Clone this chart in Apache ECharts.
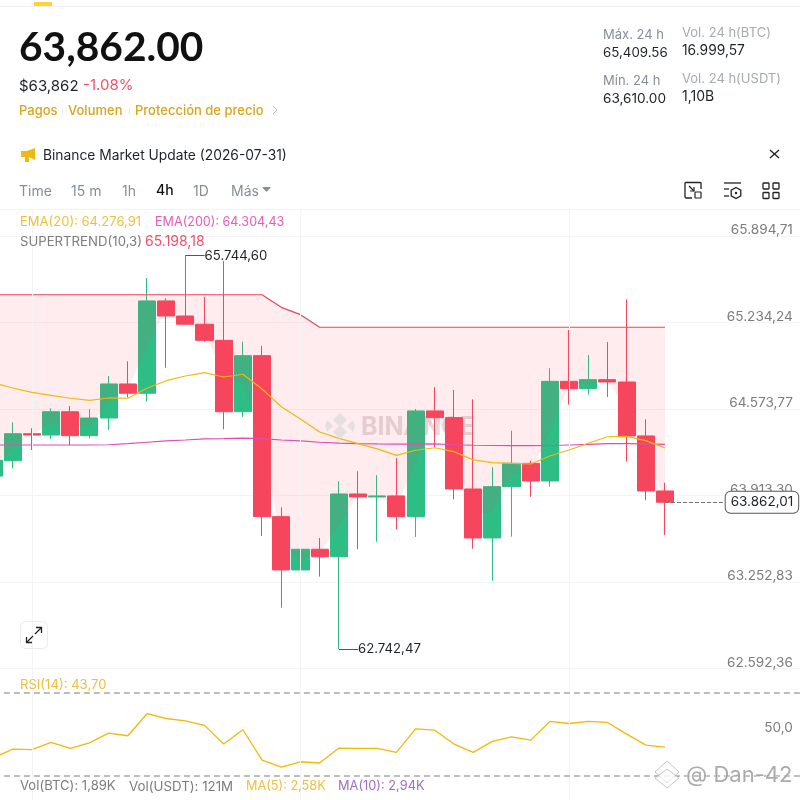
<!DOCTYPE html>
<html>
<head>
<meta charset="utf-8">
<style>html,body{margin:0;padding:0;background:#fff}#c{width:800px;height:800px}</style>
<script src="https://cdn.jsdelivr.net/npm/echarts@6/dist/echarts.min.js"></script>
</head>
<body>
<div id="c"></div>
<script>
const opens = [64062,64179,64385,64375,64553,64370,64505,64765,64694,65399,65284,65221,65098,64553,64981,63752,63345,63503,63446,63925,63902,63910,63752,64559,64508,63963,63589,63981,64159,64024,64785,64729,64798,64780,64368,63948];
const closes = [64182,64385,64375,64553,64370,64505,64765,64694,65399,65284,65221,65098,64553,64981,63752,63345,63503,63446,63925,63902,63910,63752,64559,64508,63963,63589,63981,64159,64024,64785,64729,64798,64780,64368,63948,63862.01];
const lows = [64055,64121,64261,64345,64297,64350,64414,64663,64630,64889,65215,65088,64419,64515,63604,63057,63217,63294,62742.47,63503,63561,63655,63597,64282,63884,63507,63263,63599,63904,63981,64607,64683,64666,64171,63877,63610];
const highs = [64200,64472,64427,64579,64597,64572,64826,64938,65574,65419,65744.60,65431,65704,65088,65055,63823,63663,63589,64022,64098,64068,64198,64574,64740,64719,64648,64129,64408,64179,64885,65177,64986,65085,65409.56,64495,64011];
const ema20 = [64772,64734,64701,64678,64656,64640,64658,64656,64732,64790,64826,64851,64818,64839,64727,64591,64498,64398,64350,64309,64269,64220,64259,64278,64248,64185,64164,64159,64154,64215,64261,64312,64362,64365,64332,64276.91];
const ema200 = [64299,64299,64299,64299,64299,64299,64301,64309,64320,64330,64337,64345,64347,64352,64347,64337,64330,64320,64314,64310,64307,64305,64305,64307,64301,64297,64295,64294,64294,64295,64299,64303,64309,64309,64307,64304.43];
const supertrend = [65446,65446,65446,65446,65446,65446,65446,65446,65446,65446,65446,65446,65446,65446,65446,65350,65294,65198.18,65198.18,65198.18,65198.18,65198.18,65198.18,65198.18,65198.18,65198.18,65198.18,65198.18,65198.18,65198.18,65198.18,65198.18,65198.18,65198.18,65198.18,65198.18];
const rsi = [38.5,42.8,42.5,46.0,43.1,45.8,50.5,49.2,59.8,57.5,56.4,54.2,45.2,52.1,37.5,34.1,36.7,36.1,43.3,43.1,43.1,41.2,52.5,51.9,45.2,41.2,46.5,48.7,47.1,56.1,55.1,56.1,55.6,50.0,44.7,43.7];
const priceTicks = [65894.71,65234.24,64573.77,63913.30,63252.83,62592.36];
const rsiTicks = [50];
const rsiBands = [70,30];
const timeMarks = [2,16,30];
const emptySlots = 7;

const FONT = 'Inter, "Noto Sans", sans-serif';
const RED = '#F6465D', GREEN = '#2EBD85', YEL = '#F0B90B';
const categories = opens.concat(new Array(emptySlots).fill(0)).map((_, i) => String(i));
const bandLow = opens.map((o, i) => (o + closes[i]) / 2);
const bandDiff = supertrend.map((s, i) => s - bandLow[i]);
const esFmt = (v, d) => v.toFixed(d).replace('.', ',').replace(/\B(?=(\d{3})+(?!\d))/g, '.');

const T = (text, x, y, fill, size, weight, extra) => ({
  type: 'text', z: 10, silent: true, x, y,
  style: Object.assign({ text, fill: fill || '#222', font: `${weight || 400} ${size || 13}px ${FONT}`, verticalAlign: 'middle', textAlign: 'left' }, extra || {})
});
const L = (x1, y1, x2, y2, stroke, w, z) => ({ type: 'line', z: z === undefined ? 10 : z, silent: true, shape: { x1, y1, x2, y2 }, style: { stroke: stroke || '#222', lineWidth: w || 1.3, fill: null } });
const R = (x, y, width, height, stroke, r, w) => ({ type: 'rect', z: 10, silent: true, shape: { x, y, width, height, r: r || 0 }, style: { stroke: stroke || '#222', lineWidth: w || 1.3, fill: 'transparent' } });
const P = (points, fill) => ({ type: 'polygon', z: 10, silent: true, shape: { points }, style: { fill } });
const PL = (points, stroke, w) => ({ type: 'polyline', z: 10, silent: true, shape: { points }, style: { stroke: stroke || '#222', lineWidth: w || 1.3, fill: null } });

const graphics = [
  L(0, 6.5, 800, 6.5, '#eeeeee', 1),
  { type: 'rect', z: 10, silent: true, shape: { x: 34, y: 2, width: 18, height: 4 }, style: { fill: '#FCD535' } },
  T('63,862.00', 19, 48, '#111', 40, 700, { font: '700 40.7px Lato, Inter, sans-serif' }),
  T('$63,862', 19, 86, '#1e2329', 15, 400),
  T('-1.08%', 83, 85, '#F0506A', 15, 400),
  T('Pagos', 19, 111, '#D8A51C', 13, 500),
  L(62.5, 108, 62.5, 114, '#e6e6e6', 1),
  T('Volumen', 68, 111, '#D8A51C', 13, 500),
  L(129.5, 108, 129.5, 114, '#e6e6e6', 1),
  T('Protección de precio', 135, 111, '#D8A51C', 13, 500),
  PL([[273, 106], [277, 110], [273, 114]], '#b5b5b5', 1),
  T('Máx. 24 h', 603, 35, '#848E9C', 13),
  T('65,409.56', 603, 53, '#1e2329', 13.3),
  T('Mín. 24 h', 603, 81, '#848E9C', 13),
  T('63,610.00', 603, 99, '#1e2329', 13.6),
  T('Vol. 24 h(BTC)', 682, 33, '#a5abb4', 13),
  T('16.999,57', 682, 51, '#1e2329', 13.8),
  T('Vol. 24 h(USDT)', 682, 79, '#a5abb4', 13),
  T('1,10B', 682, 97, '#1e2329', 14),
  P([[21, 151], [27, 151], [35, 148], [35, 160], [29, 157], [29, 162], [25, 162], [25, 157], [21, 157]], '#F0B90B'),
  T('Binance Market Update (2026-07-31)', 43, 156, '#1e2329', 13.8),
  L(770, 150, 779, 158, '#222', 1.3), L(779, 150, 770, 158, '#222', 1.3),
  T('Time', 19, 192, '#848E9C', 14),
  T('15 m', 71, 192, '#848E9C', 14),
  T('1h', 122, 192, '#848E9C', 14),
  T('4h', 156, 191, '#111', 14, 500),
  T('1D', 193, 192, '#848E9C', 14),
  T('Más', 231, 192, '#848E9C', 14),
  P([[262, 187], [271, 187], [266.5, 192]], '#848E9C'),
  PL([[692, 198], [686, 198], [685, 197], [685, 183], [686, 182.5], [700, 182.5], [701, 183], [701, 189]], '#222', 1.3),
  R(695, 192, 6, 6, '#222', 0.5, 1.2),
  L(689, 186, 694, 191, '#222', 1.3),
  PL([[694, 187], [694, 191], [690, 191]], '#222', 1.2),
  L(724, 183, 741, 183, '#222', 1.3), L(724, 189, 729, 189, '#222', 1.3), L(724, 196, 729, 196, '#222', 1.3),
  P([[736, 187], [741, 190], [741, 196], [736, 199], [731, 196], [731, 190]], 'transparent'),
  { type: 'polygon', z: 10, silent: true, shape: { points: [[736, 187.5], [740.8, 190.2], [740.8, 195.8], [736, 198.5], [731.2, 195.8], [731.2, 190.2]] }, style: { stroke: '#222', lineWidth: 1.3, fill: 'transparent' } },
  { type: 'circle', z: 10, silent: true, shape: { cx: 736, cy: 193, r: 1.2 }, style: { fill: '#222' } },
  R(763, 183, 6, 6, '#222', 0.8), R(773, 183, 6, 6, '#222', 0.8), R(763, 192.5, 6, 6, '#222', 0.8), R(773, 192.5, 6, 6, '#222', 0.8),
  L(0, 209.5, 800, 209.5, '#f4f4f4', 1, 0),
  T('EMA(20): 64.276,91', 20, 222, '#EFBE3C', 13),
  T('EMA(200): 64.304,43', 155, 222, '#E55BBE', 12.6),
  T('SUPERTREND(10,3)', 20, 242, '#7d7d7d', 13.2),
  T('65.198,18', 145, 242, '#F0506A', 14),
  T('RSI(14): 43,70', 20, 685.5, '#EFBE3C', 13.1),
  T('Vol(BTC): 1,89K', 20, 786.5, '#7d7d7d', 13.1),
  T('Vol(USDT): 121M', 129, 786.5, '#7d7d7d', 13.3),
  T('MA(5): 2,58K', 246, 786.5, '#EFBE3C', 12.7),
  T('MA(10): 2,94K', 338, 786.5, '#9C6FC4', 12.8),
  R(20.5, 621.5, 27, 27, '#ececec', 5, 1),
  L(27, 642, 33, 636, '#222', 1.3), L(41, 628, 35, 634, '#222', 1.3),
  PL([[36, 627.5], [41.5, 627.5], [41.5, 633]]),
  PL([[26.5, 637], [26.5, 642.5], [32, 642.5]]),
  { type: 'group', z: 0, children: [
    P([[340, 413], [347, 420], [340, 427], [333, 420]], '#e4dfe1'),
    P([[340, 425], [347, 432], [340, 439], [333, 432]], '#e4dfe1'),
    P([[327, 420], [333, 426], [327, 432], [325, 426]], '#e4dfe1'),
    P([[353, 420], [355, 426], [353, 432], [347, 426]], '#e4dfe1'),
    { type: 'text', z: 0, silent: true, x: 361, y: 427, style: { text: 'BINANCE', fill: '#e2dcde', font: `700 25px ${FONT}`, verticalAlign: 'middle' } }
  ] },
  { type: 'polygon', z: 12, silent: true, shape: { points: [[667, 761], [679, 772], [667, 783], [655, 772]] }, style: { fill: 'rgba(255,255,255,0.55)', stroke: 'rgba(160,160,160,0.6)', lineWidth: 1 } },
  { type: 'polygon', z: 12, silent: true, shape: { points: [[667, 769], [679, 778], [667, 788], [655, 778]] }, style: { fill: 'rgba(255,255,255,0.55)', stroke: 'rgba(160,160,160,0.6)', lineWidth: 1 } },
  { type: 'text', z: 12, silent: true, x: 686, y: 775, style: { text: '@ Dan-42', fill: 'rgba(150,150,150,0.8)', stroke: 'rgba(255,255,255,0.8)', lineWidth: 1, font: `400 22px ${FONT}`, verticalAlign: 'middle' } }
];

const invisibleX = (grid) => ({ type: 'category', gridIndex: grid, data: categories, axisLine: { show: false }, axisTick: { show: false }, axisLabel: { show: false }, splitLine: { show: false } });
const timeLines = { silent: true, symbol: 'none', animation: false, label: { show: false }, lineStyle: { color: '#f4f4f4', width: 1, type: 'solid' }, data: timeMarks.map(i => ({ xAxis: i })) };
const nulls = categories.map(() => null);
const noteLabel = (v) => ({ position: 'end', distance: 0, color: '#1e2329', fontSize: 13.2, fontFamily: FONT, formatter: esFmt(v, 2) });

const option = {
  animation: false,
  backgroundColor: '#ffffff',
  textStyle: { fontFamily: FONT },
  graphic: { elements: graphics },
  grid: [
    { left: -16.1, top: 210, width: 825, height: 458.5, outerBoundsMode: 'none' },
    { left: -16.1, top: 668.5, width: 825, height: 131.5, outerBoundsMode: 'none' }
  ],
  xAxis: [invisibleX(0), invisibleX(1)],
  yAxis: [
    { type: 'value', gridIndex: 0, position: 'right', min: 62592.36, max: 66093.3, scale: true,
      axisLine: { show: false },
      axisTick: { show: false, customValues: priceTicks },
      axisLabel: { inside: true, margin: 16, customValues: priceTicks, color: '#7d7d7d', fontSize: 13.6, fontFamily: FONT, verticalAlign: 'bottom', lineHeight: 12, showMinLabel: true, showMaxLabel: true, formatter: v => esFmt(v, 2) },
      splitLine: { show: true, lineStyle: { color: '#f4f4f4', width: 1 } } },
    { type: 'value', gridIndex: 1, position: 'right', min: 18.32, max: 81.54, scale: true,
      axisLine: { show: false },
      axisTick: { show: false, customValues: rsiTicks },
      axisLabel: { inside: true, margin: 16, customValues: rsiTicks, color: '#7d7d7d', fontSize: 13.6, fontFamily: FONT, verticalAlign: 'bottom', lineHeight: 12, formatter: v => esFmt(v, 1) },
      splitLine: { show: false } }
  ],
  series: [
    { name: 'gridA', type: 'line', xAxisIndex: 0, yAxisIndex: 0, z: 1, data: nulls, showSymbol: false, markLine: timeLines },
    { name: 'gridB', type: 'line', xAxisIndex: 1, yAxisIndex: 1, z: 1, data: nulls, showSymbol: false, markLine: timeLines },
    { name: 'Kline', type: 'candlestick', xAxisIndex: 0, yAxisIndex: 0, z: 2, barWidth: 17.6,
      itemStyle: { color: GREEN, color0: RED, borderColor: GREEN, borderColor0: RED, borderWidth: 1 },
      data: opens.map((o, i) => [o, closes[i], lows[i], highs[i]]),
      markLine: { silent: true, symbol: 'none', animation: false,
        lineStyle: { color: '#555', width: 1, type: 'solid' },
        data: [
          [{ coord: ['10', highs[10]], label: noteLabel(highs[10]) }, { coord: ['11', highs[10]] }],
          [{ coord: ['18', lows[18]], label: noteLabel(lows[18]) }, { coord: ['19', lows[18]] }],
          [{ coord: ['35', closes[35]], lineStyle: { type: 'dashed', color: '#777' }, label: { show: false } }, { coord: ['40', closes[35]] }]
        ] },
      markPoint: { silent: true, animation: false, symbol: 'circle', symbolSize: 0,
        label: { show: true, position: 'inside', offset: [1, 0], color: '#1e2329', fontSize: 13.5, fontFamily: FONT, backgroundColor: '#fff', borderColor: '#555', borderWidth: 1, borderRadius: 5, padding: [4, 5, 3, 5], formatter: esFmt(closes[35], 2) },
        data: [{ coord: ['40', closes[35]], value: closes[35] }] }
    },
    { name: 'bandLow', type: 'line', xAxisIndex: 0, yAxisIndex: 0, z: 3, stack: 'st', symbol: 'none', lineStyle: { opacity: 0 }, data: bandLow },
    { name: 'bandFill', type: 'line', xAxisIndex: 0, yAxisIndex: 0, z: 3, stack: 'st', symbol: 'none', lineStyle: { opacity: 0 }, areaStyle: { color: 'rgba(246,70,93,0.1)', opacity: 1 }, data: bandDiff },
    { name: 'SUPERTREND', type: 'line', xAxisIndex: 0, yAxisIndex: 0, z: 4, symbol: 'none', lineStyle: { color: '#E8475F', width: 1.2 }, data: supertrend },
    { name: 'EMA200', type: 'line', xAxisIndex: 0, yAxisIndex: 0, z: 4, symbol: 'none', lineStyle: { color: '#DE4DB8', width: 1.2 }, data: ema200 },
    { name: 'EMA20', type: 'line', xAxisIndex: 0, yAxisIndex: 0, z: 5, symbol: 'none', lineStyle: { color: '#F0B90B', width: 1.2 }, data: ema20 },
    { name: 'RSI', type: 'line', xAxisIndex: 1, yAxisIndex: 1, z: 4, symbol: 'none', lineStyle: { color: '#F0B90B', width: 1.3 }, data: rsi,
      markLine: { silent: true, symbol: 'none', animation: false, label: { show: false }, lineStyle: { color: '#a8a8a8', width: 1.5, type: [6, 4] }, data: rsiBands.map(v => ({ yAxis: v })) } }
  ]
};
const chart = echarts.init(document.getElementById('c'), null, { renderer: 'canvas', width: 800, height: 800 });
chart.setOption(option);
</script>
</body>
</html>
